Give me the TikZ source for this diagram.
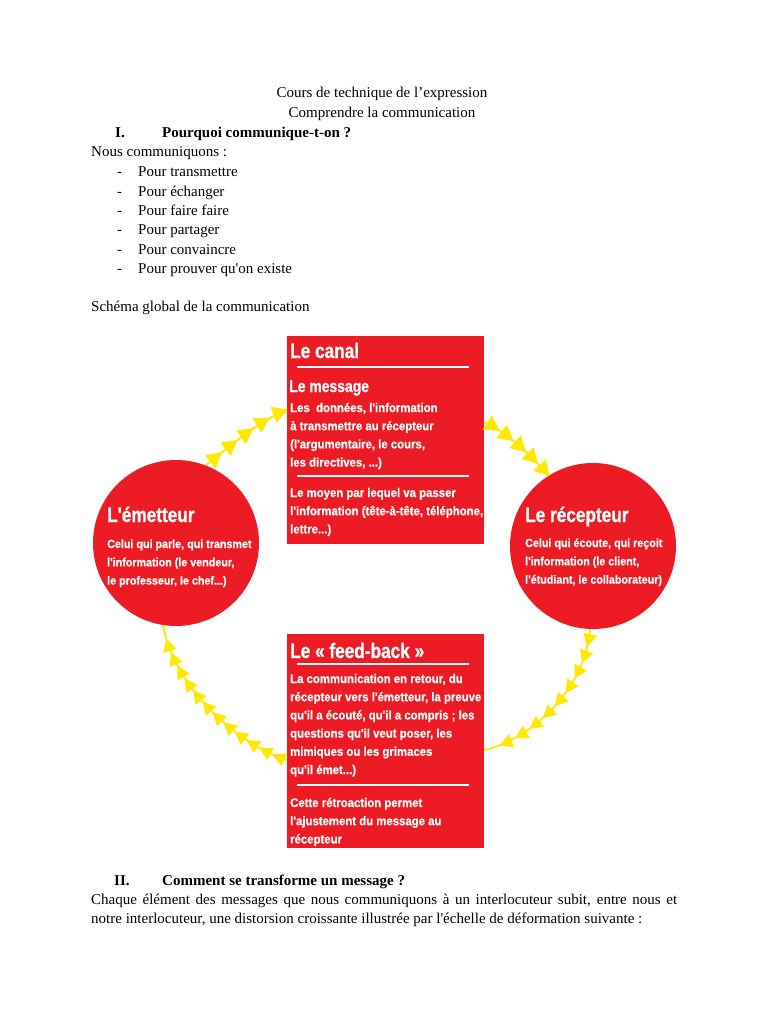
\documentclass[tikz,border=0pt]{standalone}
\usepackage{fontspec}
\setmainfont{Liberation Serif}[Ligatures=TeXOff]
\newfontfamily\condT[FakeStretch=0.82,FakeBold=0.8,Ligatures=TeXOff]{Liberation Sans}
\newfontfamily\condB[FakeStretch=0.91,FakeBold=0.6,Ligatures=TeXOff]{Liberation Sans}
\usetikzlibrary{decorations.markings}
\definecolor{dred}{RGB}{237,28,36}
\definecolor{ayel}{RGB}{255,232,0}
\newcommand\bigtri{\fill[ayel] (1,0) -- (-14,8.5) -- (-14,-8.5) -- cycle;}
\newcommand\smalltri{\fill[ayel] (1,0) -- (-12,7) -- (-12,-7) -- cycle;}
\begin{document}
\begin{tikzpicture}[x=1pt,y=-1pt,
  doc/.style={anchor=base west, inner sep=0pt, font=\fontsize{15}{19.3}\selectfont},
  docb/.style={anchor=base west, inner sep=0pt, font=\fontsize{15}{19.3}\selectfont\bfseries},
  redbox/.style={fill=dred, draw=none, inner sep=0pt},
  redcirc/.style={circle, fill=dred, draw=none, inner sep=0pt, minimum size=166pt},
  ttl/.style={anchor=base west, inner sep=0pt, text=white, font=\condT\bfseries\fontsize{21}{21}\selectfont},
  sub/.style={anchor=base west, inner sep=0pt, text=white, font=\condT\bfseries\fontsize{17}{17}\selectfont},
  body/.style={anchor=base west, inner sep=0pt, text=white, align=left, font=\condB\bfseries\fontsize{12.5}{18.2}\selectfont},
  cbody/.style={anchor=base west, inner sep=0pt, text=white, align=left, font=\condB\bfseries\fontsize{11.8}{18.3}\selectfont},
  wline/.style={draw=white, line width=2.5pt},
  chainbig/.style={draw=ayel, line width=2pt, postaction={decorate, decoration={markings,
      mark=between positions #1 and 0.99 step #1 with {\bigtri},
      mark=at position 1 with {\bigtri}}}},
  chainsmall/.style={draw=ayel, line width=1.8pt, postaction={decorate, decoration={markings,
      mark=between positions #1 and 0.99 step #1 with {\smalltri},
      mark=at position 1 with {\smalltri}}}}
]
\fill[white] (0,0) rectangle (768,1024);
\useasboundingbox (0,0) rectangle (768,1024);

% header text
\node[doc, anchor=base] (h1) at (382,98) {Cours de technique de l’expression};
\node[doc, anchor=base] (h2) at (382,118) {Comprendre la communication};
\node[docb] (s1n) at (115,138) {I.};
\node[docb] (s1) at (162,138) {Pourquoi communique-t-on ?};
\node[doc] (nous) at (91,157) {Nous communiquons :};
\node[doc] (d1) at (117,177) {-};
\node[doc] (i1) at (138,177) {Pour transmettre};
\node[doc] (d2) at (117,196.3) {-};
\node[doc] (i2) at (138,196.3) {Pour échanger};
\node[doc] (d3) at (117,215.6) {-};
\node[doc] (i3) at (138,215.6) {Pour faire faire};
\node[doc] (d4) at (117,234.9) {-};
\node[doc] (i4) at (138,234.9) {Pour partager};
\node[doc] (d5) at (117,254.2) {-};
\node[doc] (i5) at (138,254.2) {Pour convaincre};
\node[doc] (d6) at (117,273.5) {-};
\node[doc] (i6) at (138,273.5) {Pour prouver qu'on existe};
\node[doc] (schema) at (91,311) {Schéma global de la communication};

% diagram shapes
\node[redbox, minimum width=197pt, minimum height=208pt] (canal) at (385.5,440) {};
\node[redbox, minimum width=197pt, minimum height=214pt] (fb) at (385.5,741) {};
\node[redcirc] (em) at (176,543) {};
\node[redcirc] (rec) at (593,546) {};

% canal text (multi-line nodes: base = last line)
\node[ttl] (ct) at (290,358) {Le canal};
\draw[wline] (297,367) -- (469,367);
\node[sub] (msg) at (289,392) {Le message};
\node[body] (msgtxt) at (290,466.6) {Les\ \ données, l'information\\à transmettre au récepteur\\(l'argumentaire, le cours,\\les directives, ...)};
\draw[wline] (297,476) -- (469,476);
\node[body] (moyen) at (290,533.4) {Le moyen par lequel va passer\\l'information (tête-à-tête, téléphone,\\lettre...)};

% feed-back text
\node[ttl] (fbt) at (290,658) {Le « feed-back »};
\draw[wline] (297,664) -- (469,664);
\node[body] (fbtxt) at (290,774) {La communication en retour, du\\récepteur vers l'émetteur, la preuve\\qu'il a écouté, qu'il a compris ; les\\questions qu'il veut poser, les\\mimiques ou les grimaces\\qu'il émet...)};
\draw[wline] (297,785) -- (469,785);
\node[body] (fbtxt2) at (290,843.4) {Cette rétroaction permet\\l'ajustement du message au\\récepteur};

% circle text
\node[ttl] (emt) at (107,522) {L'émetteur};
\node[cbody] (emtxt) at (107,584.6) {Celui qui parle, qui transmet\\l'information (le vendeur,\\le professeur, le chef...)};
\node[ttl] (rect) at (525,522) {Le récepteur};
\node[cbody] (rectxt) at (525,583.6) {Celui qui écoute, qui reçoit\\l'information (le client,\\l'étudiant, le collaborateur)};

% yellow chains
\draw[chainbig=0.2] (em.69) .. controls +(24,-19) and +(-27,10) .. ([yshift=30pt]canal.west);
\draw[chainbig=0.2] ([yshift=18pt]canal.east) .. controls +(22,10) and +(-20,-22) .. (rec.122);
\draw[chainsmall=0.1] (rec.268) .. controls +(-5,61) and +(46,-10) .. ([yshift=-9pt]fb.east);
\draw[chainsmall=0.0769] ([yshift=-19pt]fb.west) .. controls +(-47,-15) and +(12,65) .. (em.261);

% section II
\node[docb] (s2n) at (114,885) {II.};
\node[docb] (s2) at (162,885) {Comment se transforme un message ?};
\node[doc, text width=586pt, align=justify] (par) at (91,904) {Chaque élément des messages que nous communiquons à un interlocuteur subit, entre nous et\linebreak notre interlocuteur, une distorsion croissante illustrée par l'échelle de déformation suivante :};
\end{tikzpicture}
\end{document}
